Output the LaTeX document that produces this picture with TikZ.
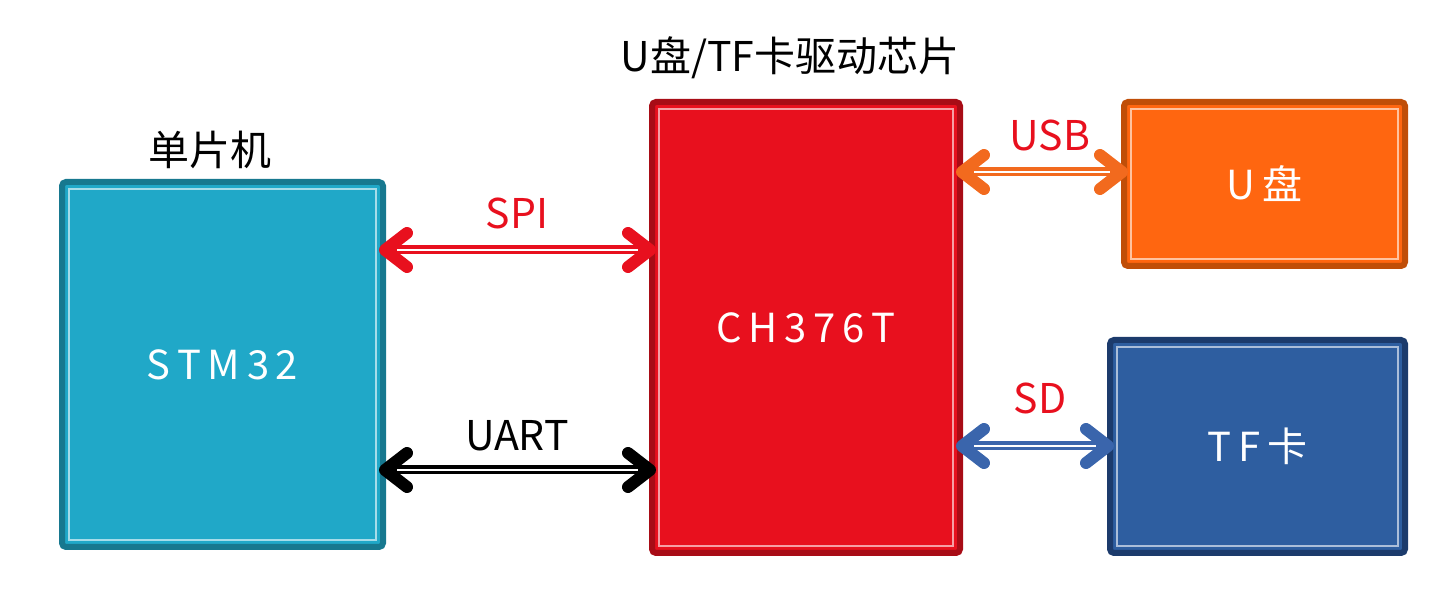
\documentclass[tikz,border=0pt]{standalone}
\usepackage{fontspec}
\setmainfont{Noto Sans CJK SC}
\usetikzlibrary{calc}
\definecolor{cyanF}{HTML}{20A8C8}\definecolor{cyanD}{HTML}{17788F}
\definecolor{redF}{HTML}{E8101E}\definecolor{redD}{HTML}{A80C16}
\definecolor{orgF}{HTML}{FF6610}\definecolor{orgD}{HTML}{C04E08}
\definecolor{bluF}{HTML}{2E5EA0}\definecolor{bluD}{HTML}{1C3B6C}
\definecolor{lblR}{HTML}{E8101E}\definecolor{arO}{HTML}{F26A1E}\definecolor{arB}{HTML}{3A65AC}
\begin{document}
\begin{tikzpicture}[x=0.5pt,y=-0.5pt,
 lbl/.style={font=\fontsize{20.5}{24}\selectfont},
 inner/.style={font=\fontsize{20}{24}\selectfont,text=white}]
\useasboundingbox (0,0) rectangle (1440,603);
\newcommand\bx[6]{%
 \fill[#5,draw=#6,line width=3pt,rounded corners=2pt] (#1) rectangle (#2);
 \draw[white!60!#5,line width=0.6pt] ($(#1)+(7,7)$) rectangle ($(#2)+(-7,-7)$);
 \node[inner] (#3) at ($(#1)!0.5!(#2)$) {#4};}
\bx{62,182}{383,547}{stm}{S\,T\,M\,3\,2}{cyanF}{cyanD}
\bx{652,102}{960,553}{ch}{C\,H\,3\,7\,6\,T}{redF}{redD}
\bx{1124,102}{1405,266}{ud}{U\,盘}{orgF}{orgD}
\bx{1110,340}{1405,553}{tf}{T\,F\,卡}{bluF}{bluD}
\node[lbl] (t1) at (210,150) {单片机};
\node[lbl] (t2) at (790,58) {U盘/TF卡驱动芯片};
\node[lbl,text=lblR] (spi) at (517,213) {SPI};
\node[lbl] (uart) at (517,436) {UART};
\node[lbl,text=lblR] (usb) at (1050,135) {USB};
\node[lbl,text=lblR] (sd) at (1040,398) {SD};
\coordinate (a1) at (385,250); \coordinate (b1) at (650,250);
\coordinate (a2) at (385,470); \coordinate (b2) at (650,470);
\coordinate (a3) at (962,172); \coordinate (b3) at (1122,172);
\coordinate (a4) at (962,446); \coordinate (b4) at (1108,446);
\newcommand\darr[3]{%
 \draw[#3,line width=4.5pt] (#1) -- (#2);
 \draw[white,line width=1.2pt] ($(#1)+(12,0)$) -- ($(#2)+(-12,0)$);
 \draw[#3,line width=6pt,line cap=round,line join=round] ($(#1)+(22,-17)$) -- (#1) -- ($(#1)+(22,17)$);
 \draw[#3,line width=6pt,line cap=round,line join=round] ($(#2)+(-22,-17)$) -- (#2) -- ($(#2)+(-22,17)$);}
\darr{a1}{b1}{lblR}
\darr{a2}{b2}{black}
\darr{a3}{b3}{arO}
\darr{a4}{b4}{arB}
\end{tikzpicture}
\end{document}
